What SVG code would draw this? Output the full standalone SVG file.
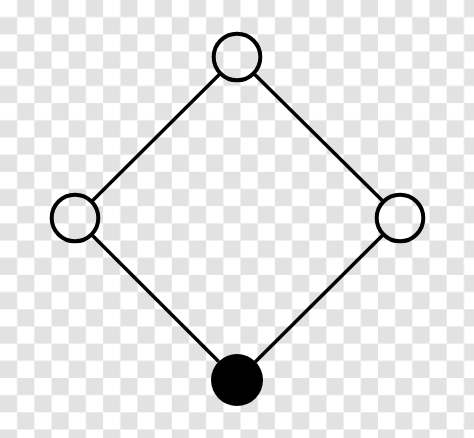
<svg xmlns="http://www.w3.org/2000/svg" width="474" height="438" viewBox="0 0 474 438">
  <defs>
    <pattern id="checker" patternUnits="userSpaceOnUse" x="0" y="0" width="34.36" height="34.36">
      <rect width="34.36" height="34.36" fill="#ffffff"/>
      <rect x="17.18" y="0" width="17.18" height="17.18" fill="#e2e2e2"/>
      <rect x="0" y="17.18" width="17.18" height="17.18" fill="#e2e2e2"/>
    </pattern>
    <style>
      .edge { stroke: #000; stroke-width: 3.5; stroke-linecap: butt; fill: none; }
      .open { fill: none; stroke: #000; stroke-width: 4; }
      .filled { fill: #000; stroke: none; }
    </style>
  </defs>
  <rect width="474" height="438" fill="url(#checker)"/>
  <g id="connectors">
    <line class="edge" x1="219.3" y1="74.6" x2="92.7" y2="200.4"/>
    <line class="edge" x1="254.8" y1="74.6" x2="382.2" y2="200.4"/>
    <line class="edge" x1="92.7" y1="235.7" x2="218.6" y2="361.6"/>
    <line class="edge" x1="382.3" y1="235.6" x2="255.4" y2="361.7"/>
  </g>
  <g id="node-top">
    <circle class="open" cx="237" cy="57" r="23.3"/>
  </g>
  <g id="node-left">
    <circle class="open" cx="75" cy="218" r="23.3"/>
  </g>
  <g id="node-right">
    <circle class="open" cx="400" cy="218" r="23.3"/>
  </g>
  <g id="node-bottom">
    <circle class="filled" cx="237" cy="380" r="26"/>
  </g>
</svg>
